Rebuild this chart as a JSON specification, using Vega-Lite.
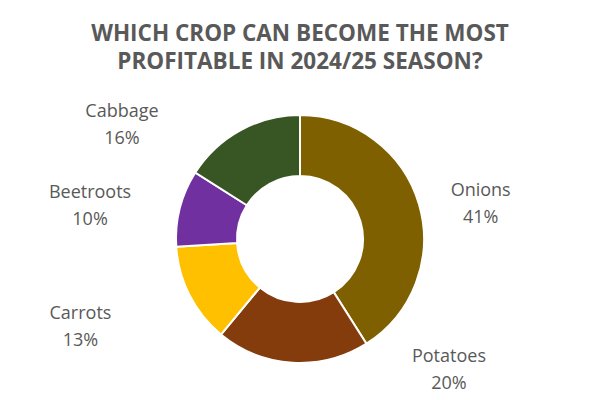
{
  "$schema": "https://vega.github.io/schema/vega-lite/v6.json",
  "width": 600,
  "height": 322,
  "autosize": "none",
  "padding": {"top": 78, "left": 0, "right": 0, "bottom": 0},
  "title": {
    "text": ["WHICH CROP CAN BECOME THE MOST", "PROFITABLE IN 2024/25 SEASON?"],
    "font": "Open Sans",
    "fontSize": 22.5,
    "fontWeight": "bold",
    "color": "#595959",
    "lineHeight": 28,
    "anchor": "middle",
    "offset": 9,
    "dy": 35
  },
  "data": {
    "values": [
      {"crop": "Onions", "share": 41, "rank": 1, "label": "Onions\n41%"},
      {"crop": "Potatoes", "share": 20, "rank": 2, "label": "Potatoes\n20%"},
      {"crop": "Carrots", "share": 13, "rank": 3, "label": "Carrots\n13%"},
      {"crop": "Beetroots", "share": 10, "rank": 4, "label": "Beetroots\n10%"},
      {"crop": "Cabbage", "share": 16, "rank": 5, "label": "Cabbage\n16%"}
    ]
  },
  "encoding": {
    "theta": {"field": "share", "type": "quantitative", "stack": true},
    "order": {"field": "rank", "type": "quantitative"}
  },
  "layer": [
    {
      "mark": {"type": "arc", "innerRadius": 63, "outerRadius": 124, "stroke": "white", "strokeWidth": 2},
      "encoding": {
        "color": {
          "field": "crop",
          "type": "nominal",
          "scale": {
            "domain": ["Onions", "Potatoes", "Carrots", "Beetroots", "Cabbage"],
            "range": ["#7f6000", "#843c0c", "#ffc000", "#7030a0", "#375623"]
          },
          "legend": null
        }
      }
    },
    {
      "mark": {"type": "text", "radius": 160, "dx": 27, "dy": -3, "font": "Open Sans", "fontSize": 18, "fill": "#595959", "lineBreak": "\n", "lineHeight": 27},
      "encoding": {"text": {"condition": {"test": "datum.crop === 'Onions'", "field": "label", "type": "nominal"}, "value": ""}}
    },
    {
      "mark": {"type": "text", "radius": 160, "dx": 159, "dy": -42, "font": "Open Sans", "fontSize": 18, "fill": "#595959", "lineBreak": "\n", "lineHeight": 27},
      "encoding": {"text": {"condition": {"test": "datum.crop === 'Potatoes'", "field": "label", "type": "nominal"}, "value": ""}}
    },
    {
      "mark": {"type": "text", "radius": 160, "dx": -77, "dy": 2, "font": "Open Sans", "fontSize": 18, "fill": "#595959", "lineBreak": "\n", "lineHeight": 27},
      "encoding": {"text": {"condition": {"test": "datum.crop === 'Carrots'", "field": "label", "type": "nominal"}, "value": ""}}
    },
    {
      "mark": {"type": "text", "radius": 160, "dx": -55, "dy": -6, "font": "Open Sans", "fontSize": 18, "fill": "#595959", "lineBreak": "\n", "lineHeight": 27},
      "encoding": {"text": {"condition": {"test": "datum.crop === 'Beetroots'", "field": "label", "type": "nominal"}, "value": ""}}
    },
    {
      "mark": {"type": "text", "radius": 160, "dx": -101, "dy": 13, "font": "Open Sans", "fontSize": 18, "fill": "#595959", "lineBreak": "\n", "lineHeight": 27},
      "encoding": {"text": {"condition": {"test": "datum.crop === 'Cabbage'", "field": "label", "type": "nominal"}, "value": ""}}
    }
  ],
  "config": {"view": {"stroke": null}}
}
